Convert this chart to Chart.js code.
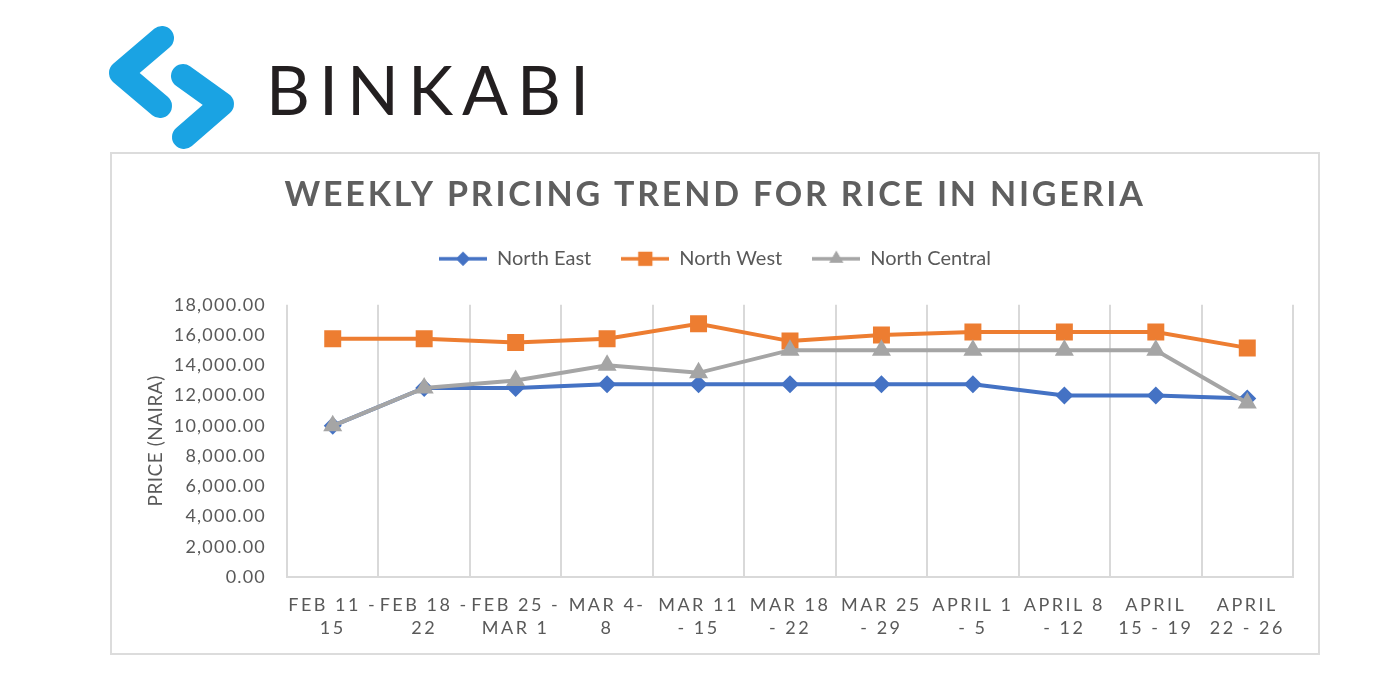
<!DOCTYPE html>
<html>
<head>
<meta charset="utf-8">
<script src="https://cdn.jsdelivr.net/npm/chart.js@4.4.1/dist/chart.umd.min.js"></script>
<style>
  body { margin: 0; background: #fff; width: 1400px; height: 700px; position: relative; overflow: hidden; }
  #logo { position: absolute; left: 100px; top: 20px; }
  #brand { position: absolute; left: 266px; top: 55px; font-family: Lato, sans-serif; font-size: 68px; letter-spacing: 9px; color: #231f20; line-height: 1; }
  #box { position: absolute; left: 110px; top: 152px; width: 1210px; height: 503px; border: 2px solid #dcdcdc; box-sizing: border-box; }
  #wrap { position: absolute; left: 0; top: 0; width: 1206px; height: 499px; }
</style>
</head>
<body>
<svg id="logo" width="150" height="140" viewBox="100 20 150 140">
  <polyline points="162,38 121,73 160,106" fill="none" stroke="#1aa3e3" stroke-width="24" stroke-linecap="round" stroke-linejoin="round"/>
  <polyline points="183,76 222,104 184,137" fill="none" stroke="#1aa3e3" stroke-width="24" stroke-linecap="round" stroke-linejoin="round"/>
</svg>
<div id="brand">BINKABI</div>
<div id="box"><div id="wrap"><canvas id="priceChart"></canvas></div></div>
<script>
// weekly rice prices (naira)

const weeks = [
  ["FEB 11 -", "15"],
  ["FEB 18 -", "22"],
  ["FEB 25 -", "MAR 1"],
  ["MAR 4-", "8"],
  ["MAR 11", "- 15"],
  ["MAR 18", "- 22"],
  ["MAR 25", "- 29"],
  ["APRIL 1", "- 5"],
  ["APRIL 8", "- 12"],
  ["APRIL", "15 - 19"],
  ["APRIL", "22 - 26"],
];
const northEast = [10000, 12500, 12500, 12750, 12750, 12750, 12750, 12750, 12000, 12000, 11800];
const northWest = [15750, 15750, 15500, 15750, 16750, 15600, 16000, 16200, 16200, 16200, 15150];
const northCentral = [10000, 12500, 13000, 14000, 13500, 15000, 15000, 15000, 15000, 15000, 11500];
const yTicks = [0, 2000, 4000, 6000, 8000, 10000, 12000, 14000, 16000, 18000];

const BLUE = "#4472c4";
const ORANGE = "#ed7d31";
const GREY = "#a5a5a5";
const TEXT = "#595959";

// legend icon: short line with the marker in the middle, like Excel
function legendIcon(color, style, radius) {
  const c = document.createElement("canvas");
  c.width = 48;
  c.height = 24;
  const ctx = c.getContext("2d");
  ctx.strokeStyle = color;
  ctx.lineWidth = 3.5;
  ctx.beginPath();
  ctx.moveTo(0, 12);
  ctx.lineTo(48, 12);
  ctx.stroke();
  ctx.fillStyle = color;
  Chart.helpers.drawPoint(ctx, { pointStyle: style, radius: radius, borderWidth: 0 }, 24, 12);
  ctx.fill();
  return c;
}

// Chart.js has no letter spacing option, so wrap the draw calls that need it
function spaced(obj, name, spacing) {
  if (!obj || obj["_sp_" + name]) return;
  const orig = obj[name];
  obj[name] = function (...args) {
    const ctx = this.ctx;
    const prev = ctx.letterSpacing;
    ctx.letterSpacing = spacing;
    orig.apply(this, args);
    ctx.letterSpacing = prev;
  };
  obj["_sp_" + name] = true;
}

const tweaks = {
  id: "tweaks",
  afterInit(chart) {
    // extra room under the legend before the plot starts
    const lg = chart.legend;
    const fit = lg.fit;
    lg.fit = function () {
      fit.call(this);
      this.height += 26;
    };
  },
  beforeDraw(chart) {
    spaced(chart.scales.x, "drawLabels", "2.5px");
    spaced(chart.scales.y, "drawLabels", "1.2px");
    spaced(chart.scales.y, "drawTitle", "0.5px");
    spaced(chart.titleBlock, "draw", "2.8px");
  },
};

const icons = [
  legendIcon(BLUE, "rectRot", 7),
  legendIcon(ORANGE, "rect", 10),
  legendIcon(GREY, "triangle", 8),
];

new Chart(document.getElementById("priceChart"), {
  type: "line",
  data: {
    labels: weeks,
    datasets: [
      {
        label: "North East",
        data: northEast,
        borderColor: BLUE,
        backgroundColor: BLUE,
        pointStyle: "rectRot",
        pointRadius: 9,
        order: 3,
      },
      {
        label: "North West",
        data: northWest,
        borderColor: ORANGE,
        backgroundColor: ORANGE,
        pointStyle: "rect",
        pointRadius: 12,
        order: 2,
      },
      {
        label: "North Central",
        data: northCentral,
        borderColor: GREY,
        backgroundColor: GREY,
        pointStyle: "triangle",
        pointRadius: 11,
        order: 1,
      },
    ],
  },
  plugins: [tweaks],
  options: {
    responsive: true,
    maintainAspectRatio: false,
    animation: false,
    layout: { padding: 0 },
    elements: {
      line: { borderWidth: 4, tension: 0 },
      point: { borderWidth: 0, hoverRadius: 10 },
    },
    scales: {
      x: {
        offset: true,
        grid: { offset: true, color: "#d9d9d9", lineWidth: 2, drawTicks: false },
        border: { color: "#d9d9d9", width: 2 },
        ticks: {
          color: TEXT,
          font: { family: "Lato", size: 18, lineHeight: 1.3 },
          padding: 16,
          maxRotation: 0,
          autoSkip: false,
        },
        afterFit(scale) {
          scale.height = 76;
        },
      },
      y: {
        min: 0,
        max: 18000,
        afterBuildTicks(scale) {
          scale.ticks = yTicks.map((v) => ({ value: v }));
        },
        grid: { display: false },
        border: { display: false },
        ticks: {
          color: TEXT,
          font: { family: "Lato", size: 18 },
          padding: 13,
          callback: (v) =>
            v.toLocaleString("en-US", { minimumFractionDigits: 2, maximumFractionDigits: 2 }),
        },
        title: {
          display: true,
          text: "PRICE (NAIRA)",
          color: TEXT,
          font: { family: "Lato", size: 19 },
          padding: { top: 32, bottom: 0 },
        },
        afterFit(scale) {
          scale.width = 175;
        },
      },
      // empty axis on the right, only to keep the plot off the frame
      spacer: {
        position: "right",
        display: true,
        grid: { display: false },
        border: { display: false },
        ticks: { display: false },
        afterFit(scale) {
          scale.width = 25;
        },
      },
    },
    plugins: {
      title: {
        display: true,
        text: "WEEKLY PRICING TREND FOR RICE IN NIGERIA",
        color: "#5f5f5f",
        font: { family: "Lato", size: 34, weight: "bold" },
        padding: { top: 21, bottom: 3 },
      },
      legend: {
        labels: {
          usePointStyle: true,
          pointStyleWidth: 48,
          color: TEXT,
          font: { family: "Lato", size: 20 },
          padding: 30,
          generateLabels(chart) {
            return chart.data.datasets.map((ds, i) => ({
              text: ds.label,
              pointStyle: icons[i],
              fontColor: TEXT,
              fillStyle: "transparent",
              strokeStyle: "transparent",
              lineWidth: 0,
              hidden: false,
              datasetIndex: i,
            }));
          },
        },
      },
      tooltip: { enabled: false },
    },
  },
});
</script>
</body>
</html>
